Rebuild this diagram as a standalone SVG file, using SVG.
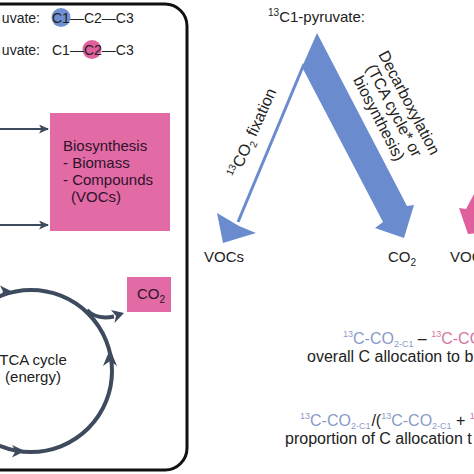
<svg xmlns="http://www.w3.org/2000/svg" width="474" height="474" viewBox="0 0 474 474">
<style>
text{font-family:"Liberation Sans",Arial,sans-serif;fill:#222}
.t14{font-size:14px}
.t15{font-size:15px}
.t16{font-size:16px}
.sm{font-size:9px}
.sm10{font-size:10px}
.box{fill:#e26aa5}
.boxtxt{fill:#2e1429}
.blue{fill:#8a9bc8}
.pink{fill:#d4779f}
.dk{stroke:#3e4a5e;fill:none}
.head{fill:#3e4a5e}
.arrowB{fill:#6a8ccf}
</style>
<defs>
<marker id="ah" markerUnits="userSpaceOnUse" markerWidth="10" markerHeight="9" refX="9" refY="4.5" orient="auto">
<path d="M0,0 L10,4.5 L0,9 L2.5,4.5 Z" fill="#3e4a5e"/>
</marker>
</defs>
<rect width="474" height="474" fill="#ffffff"/>

<g id="left-panel">
<rect x="-30" y="4" width="217" height="466" rx="22" ry="22" fill="none" stroke="#111" stroke-width="3"/>
</g>

<g id="pyruvate-labels">
<circle cx="61" cy="17.5" r="9.5" fill="#6f8fd0"/>
<circle cx="92" cy="49.5" r="9.5" fill="#e0609e"/>
<text class="t14" x="40" y="23" text-anchor="end">uvate:</text>
<text class="t14" x="52" y="23">C1—C2—C3</text>
<text class="t14" x="40" y="55" text-anchor="end">uvate:</text>
<text class="t14" x="52" y="55">C1—C2—C3</text>
</g>

<g id="biosynthesis">
<rect class="box" x="50" y="113" width="120" height="118"/>
<text class="t15 boxtxt" x="63" y="151">Biosynthesis</text>
<text class="t15 boxtxt" x="63" y="168">- Biomass</text>
<text class="t15 boxtxt" x="63" y="185">- Compounds</text>
<text class="t15 boxtxt" x="71" y="202">(VOCs)</text>
</g>

<g id="co2-box">
<rect class="box" x="127" y="277" width="44" height="35"/>
<text class="t15 boxtxt" x="137" y="299">CO<tspan class="sm10" dy="4">2</tspan></text>
</g>

<g id="tca-cycle">
<circle class="dk" cx="31" cy="371" r="81" stroke-width="4"/>
<text class="t15" x="33" y="365" text-anchor="middle">TCA cycle</text>
<text class="t15" x="33" y="382" text-anchor="middle">(energy)</text>
</g>

<g id="connectors">
<line class="dk" x1="-5" y1="129" x2="48" y2="129" stroke-width="2" marker-end="url(#ah)"/>
<line class="dk" x1="-5" y1="225" x2="48" y2="225" stroke-width="2" marker-end="url(#ah)"/>
<path class="head" d="M11,291 L0,285.5 L3,291.5 L0,298 Z"/>
<path class="head" d="M110,349 L117,366 L110,361 L103,366 Z"/>
<path class="head" d="M25,451 L12,445 L15.5,451 L12,457.5 Z"/>
<path class="dk" d="M87,310 Q96,320 114,316.5" stroke-width="4"/>
<path class="head" d="M124,313 L111,310 L116,316 L114.5,323 Z"/>
<polygon class="arrowB" points="317,33 407,206 414,205 404,238 375,228 383,222 302,67"/>
<line x1="304" y1="64" x2="238" y2="222" stroke="#6a8ccf" stroke-width="3"/>
<polygon class="arrowB" points="217,213 223,243 256,233 239,226"/>
<polygon fill="#e0609e" points="474,194 466,209 459,208 468,234 474,233.5"/>
</g>

<g id="right-panel-labels">
<text class="t15" x="268" y="22"><tspan class="sm10" dy="-6">13</tspan><tspan dy="6">C1-pyruvate:</tspan></text>
<text class="t15" x="204" y="262">VOCs</text>
<text class="t15" x="388" y="262">CO<tspan class="sm10" dy="4">2</tspan></text>
<text class="t15" x="450" y="262">VOC</text>
<text class="t16" transform="translate(404.4,105.2) rotate(62.5)" text-anchor="middle">Decarboxylation</text>
<text class="t16" transform="translate(389.3,113) rotate(62.5)" text-anchor="middle">(TCA cycle* or</text>
<text class="t16" transform="translate(374.2,120.9) rotate(62.5)" text-anchor="middle">biosynthesis)</text>
<text class="t16" transform="translate(257,135) rotate(-65.8)" text-anchor="middle"><tspan class="sm10" dy="-6">13</tspan><tspan dy="6">CO</tspan><tspan class="sm10" dy="4">2</tspan><tspan dy="-4"> fixation</tspan></text>
</g>

<g id="formulas">
<text class="t16" x="343" y="344"><tspan class="sm blue" dy="-7">13</tspan><tspan class="blue" dy="7">C-CO</tspan><tspan class="sm blue" dy="3">2-C1</tspan><tspan dy="-3"> – </tspan><tspan class="sm pink" dy="-7">13</tspan><tspan class="pink" dy="7">C-CO</tspan></text>
<text class="t16" x="307" y="362">overall C allocation to b</text>
<text class="t16" x="300" y="426"><tspan class="sm blue" dy="-7">13</tspan><tspan class="blue" dy="7">C-CO</tspan><tspan class="sm blue" dy="3">2-C1</tspan><tspan dx="1" dy="-3">/(</tspan><tspan class="sm blue" dy="-7">13</tspan><tspan class="blue" dy="7">C-CO</tspan><tspan class="sm blue" dy="3">2-C1</tspan><tspan dy="-3"> + </tspan><tspan class="sm pink" dy="-7">13</tspan></text>
<text class="t16" x="285" y="444">proportion of C allocation t</text>
</g>
</svg>
